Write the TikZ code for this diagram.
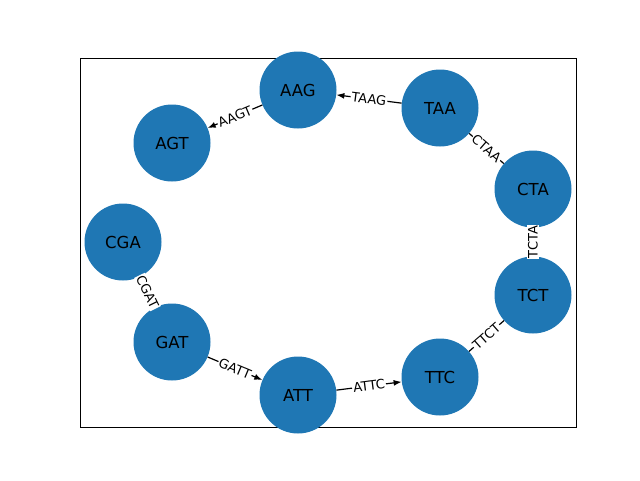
\documentclass[tikz,border=0pt]{standalone}
\usepackage{fontspec}
\setmainfont{DejaVu Sans}
\usetikzlibrary{arrows.meta}
\begin{document}
\begin{tikzpicture}[x=1pt,y=-1pt,
  nd/.style={circle,fill=fill1,draw=none,minimum size=77pt,inner sep=0pt,font=\fontsize{16.5}{19}\selectfont},
  ed/.style={draw=black,line width=1.2pt},
  ar/.style={ed,-{Latex[length=8pt,width=6pt]}},
  lb/.style={sloped,fill=white,inner sep=1pt,font=\fontsize{13}{15}\selectfont}]
\definecolor{fill1}{HTML}{1F77B4}
\useasboundingbox (0,0) rectangle (640,480);
\draw[line width=1pt] (80,58) rectangle (576,427);
\node[nd] (AAG) at (298,90) {AAG};
\node[nd] (TAA) at (440,108) {TAA};
\node[nd] (CTA) at (533,189) {CTA};
\node[nd] (TCT) at (533,295) {TCT};
\node[nd] (TTC) at (440,377) {TTC};
\node[nd] (ATT) at (298,395) {ATT};
\node[nd] (GAT) at (172,342) {GAT};
\node[nd] (CGA) at (123,242) {CGA};
\node[nd] (AGT) at (172,143) {AGT};
\draw[ar] (TAA) -- (AAG);
\draw[ar] (AAG) -- (AGT);
\draw[ed] (CTA) -- (TAA);
\draw[ed] (TCT) -- (CTA);
\draw[ed] (TTC) -- (TCT);
\draw[ed] (CGA) -- (GAT);
\draw[ar] (GAT) -- (ATT);
\draw[ar] (ATT) -- (TTC);
\path (TAA.center) -- node[lb]{TAAG} (AAG.center);
\path (AAG.center) -- node[lb]{AAGT} (AGT.center);
\path (CTA.center) -- node[lb]{CTAA} (TAA.center);
\path (TCT.center) -- node[lb]{TCTA} (CTA.center);
\path (TTC.center) -- node[lb]{TTCT} (TCT.center);
\path (CGA.center) -- node[lb]{CGAT} (GAT.center);
\path (GAT.center) -- node[lb]{GATT} (ATT.center);
\path (ATT.center) -- node[lb]{ATTC} (TTC.center);
\end{tikzpicture}
\end{document}
